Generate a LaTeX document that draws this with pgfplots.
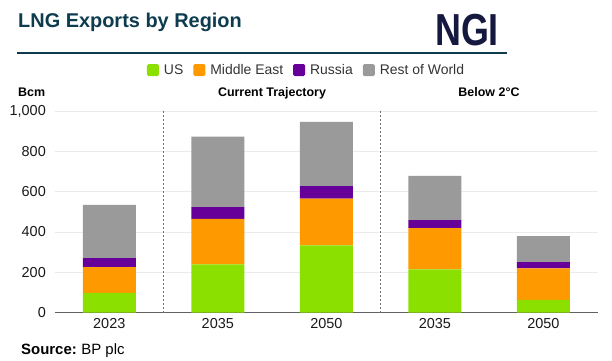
\documentclass[border=0pt]{standalone}
\usepackage{pgfplots}
\pgfplotsset{compat=1.18}
\usepackage{fontspec}
\setmainfont{Liberation Sans}
\definecolor{cUS}{HTML}{8CE000}
\definecolor{cME}{HTML}{FF9900}
\definecolor{cRU}{HTML}{660099}
\definecolor{cRW}{HTML}{9A9A9A}
\definecolor{titlec}{HTML}{0E3C4F}
\definecolor{ngi}{HTML}{16193F}
\begin{document}
\begin{tikzpicture}[x=1bp,y=1bp]
\path (0,0) rectangle (612,360);
\node[anchor=base west, inner sep=0, text=titlec, font=\fontsize{20}{24}\selectfont\bfseries] at (18,333) {LNG Exports by Region};
\draw[titlec, line width=2.5bp] (17,307) -- (507,307);
\node[anchor=base west, inner sep=0, text=ngi, font=\fontsize{45}{50}\selectfont\bfseries, xscale=0.8] at (435,315) {NGI};
\node[anchor=base west, inner sep=0, font=\fontsize{15}{18}\selectfont] at (21,6) {\textbf{Source:}\hspace{-1bp} BP plc};
\node[anchor=base west, inner sep=0, font=\fontsize{12.5}{15}\selectfont\bfseries] at (18,264) {Bcm};
\node[anchor=base, inner sep=0, font=\fontsize{12.5}{15}\selectfont\bfseries] at (272,264) {Current Trajectory};
\node[anchor=base, inner sep=0, font=\fontsize{12.5}{15}\selectfont\bfseries] at (489,264) {Below 2°C};
\begin{axis}[
  at={(55bp,47.3bp)}, anchor=south west,
  scale only axis, width=542.7bp, height=201.7bp,
  ybar stacked, bar width=53bp,
  xmin=-0.5, xmax=4.5, ymin=0, ymax=1000,
  xtick={0,1,2,3,4}, xticklabels={2023,2035,2050,2035,2050},
  ytick={0,200,400,600,800,1000}, yticklabels={0,200,400,600,800,{1,000}},
  major tick length=0,
  axis x line*=bottom, axis y line*=left,
  y axis line style={draw=none},
  x axis line style={draw=black!62, line width=1.5bp},
  ymajorgrids, major grid style={draw=black!8, line width=1bp},
  tick label style={font=\fontsize{14.5}{16}\selectfont, text=black!90},
  yticklabel style={inner sep=0pt, anchor=east, xshift=-9bp},
  xticklabel style={inner sep=0pt, anchor=north, yshift=-6bp},
  legend columns=4,
  legend style={draw=none, fill=none, at={(0.4634,1.203)}, anchor=center,
    font=\fontsize{14}{16}\selectfont, text=black!80,
    /tikz/every odd column/.append style={column sep=3bp},
    /tikz/every even column/.append style={column sep=8bp}},
  legend image code/.code={\fill[#1, rounded corners=1.5bp] (0bp,-6bp) rectangle (12bp,6bp);},
]
\addplot[fill=cUS, draw=none] coordinates {(0,98) (1,240) (2,334) (3,215) (4,63)};
\addplot[fill=cME, draw=none] coordinates {(0,128) (1,225) (2,232) (3,204) (4,157)};
\addplot[fill=cRU, draw=none] coordinates {(0,45) (1,58) (2,61) (3,40) (4,31)};
\addplot[fill=cRW, draw=none] coordinates {(0,264) (1,350) (2,319) (3,219) (4,129)};
\legend{US, Middle East, Russia, Rest of World}
\draw[black!55, line width=0.8bp, dash pattern=on 2bp off 2bp] (axis cs:0.5,0) -- (axis cs:0.5,1000);
\draw[black!55, line width=0.8bp, dash pattern=on 2bp off 2bp] (axis cs:2.5,0) -- (axis cs:2.5,1000);
\end{axis}
\end{tikzpicture}
\end{document}
